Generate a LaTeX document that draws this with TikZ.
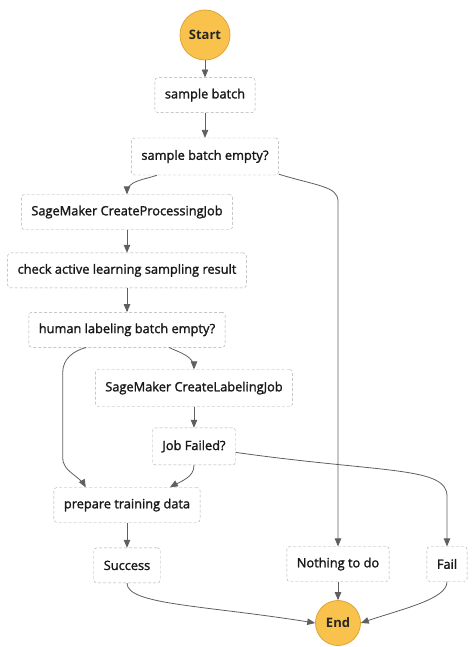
\documentclass[tikz,border=0pt]{standalone}
\usepackage{fontspec}
\setmainfont{Open Sans}
\newfontfamily\stepfont{Open Sans}[FakeBold=1.6]
\usepackage{tikz}
\usetikzlibrary{positioning, calc, arrows}
\tikzset{>=triangle 45}
\definecolor{stepline}{HTML}{ABABAB}
\definecolor{arrowgray}{HTML}{5F5F5F}
\definecolor{termfill}{HTML}{F8C24C}
\definecolor{termline}{HTML}{DDA53A}
\tikzset{terminal/.style={circle, draw=termline, fill=termfill, line width=0.8pt, minimum size=50pt, inner sep=0pt, font=\fontsize{13}{15}\selectfont\bfseries, text=black!85}}

\begin{document}
\begin{tikzpicture}
    [x=1pt, y=1pt,
      box/.style={draw=stepline, dash pattern=on 3pt off 2pt, rounded corners=3pt, minimum height=35pt, inner xsep=10pt, fill=white, text=black!90, font=\stepfont\fontsize{12.8}{15}\selectfont},
      arr/.style={->, draw=arrowgray, line width=0.8pt}]

    \useasboundingbox (0,0) rectangle (474,-647);

    \node[terminal] (start) at (205,-35) {Start};
    \node[box, below=17pt of start] (sample) {sample batch};
    \node[box, below=25pt of sample, minimum height=37pt] (empty) {sample batch empty?};

    \node[box] (proc) at (127,-212) {SageMaker CreateProcessingJob};
    \node[box, below=23pt of proc] (check) {check active learning sampling result};
    \node[box, below=24pt of check] (human) {human labeling batch empty?};

    \node[box, minimum height=37pt] (label) at (194,-388) {SageMaker CreateLabelingJob};
    \node[box, below=21pt of label, minimum height=37pt] (failed) {Job Failed?};

    \node[box] (prep) at (127,-505) {prepare training data};
    \node[box, below=25pt of prep] (success) {Success};
    \node[box] (nothing) at (338,-564) {Nothing to do};
    \node[box] (fail) at (447,-564) {Fail};

    \node[terminal, minimum size=45pt] (end) at (338,-623) {End};

    \draw[arr] (start) -- (sample);
    \draw[arr] (sample) -- (empty);

    \draw[arr] ($(empty.south)+(-48,0)$) to[out=200, in=90] (proc.north);
    \draw[arr] ($(empty.south east)+(0,1)$) .. controls +(-17:40) and +(90:15) .. ($(nothing.north)+(0,345)$) -- (nothing.north);

    \draw[arr] (proc) -- (check);
    \draw[arr] (check) -- (human);

    \draw[arr] ($(human.south)+(42,0)$) to[out=-25, in=90] (label.north);
    \draw[arr] ($(human.south)+(-41,0)$) to[out=195, in=90] ($(prep.north west)+(9,115)$) -- ($(prep.north west)+(9,30)$) to[out=-90, in=120] ($(prep.north west)+(32,0)$);

    \draw[arr] (label) -- (failed);
    \draw[arr] (failed.south) to[out=-90, in=30] ($(prep.north)+(43,0)$);
    \draw[arr] ($(failed.east)+(0,-6)$) .. controls +(-8:150) and +(90:30) .. ($(fail.north)+(0,50)$) -- (fail.north);

    \draw[arr] (prep) -- (success);
    \draw[arr] (success.south) .. controls +(0,-22) and +(-110,18) .. (end.west);
    \draw[arr] (nothing) -- (end);
    \draw[arr] (fail.south) .. controls +(0,-18) and +(40,14) .. (end.east);
  \end{tikzpicture}
\end{document}
